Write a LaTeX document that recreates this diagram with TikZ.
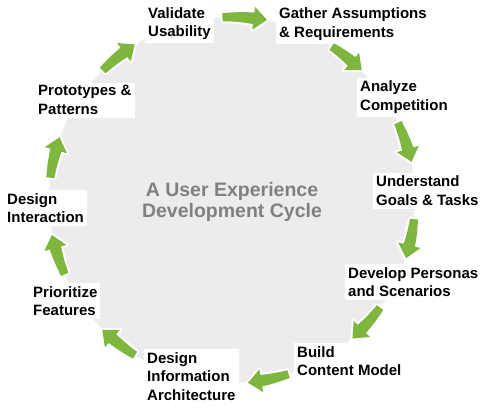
\documentclass[tikz,border=0pt]{standalone}
\usepackage{fontspec}
\setmainfont{Liberation Sans}
\definecolor{uxgrey}{RGB}{238,235,239}
\definecolor{uxgreen}{RGB}{126,182,64}
\definecolor{uxtitle}{RGB}{128,128,128}
\def\uxR{183}
% #1 tail angle, #2 tip angle (clockwise arrow along the circle)
\newcommand\uxarr[2]{%
  \pgfmathsetmacro\uxhb{#2+4.2}%
  \path[arrowfill]
    plot[domain=#1:\uxhb, samples=15] (\x:{\uxR+4+1.8*(\x-(#1))/(\uxhb-(#1))})
    -- (\uxhb:{\uxR+11.5}) -- (#2:{\uxR+0.5}) -- (\uxhb:{\uxR-11.5})
    -- plot[domain=\uxhb:#1, samples=15] (\x:{\uxR-4-1.8*(\x-(#1))/(\uxhb-(#1))})
    -- cycle;}
\begin{document}
\begin{tikzpicture}[x=1pt,y=1pt,
  lbl/.style={anchor=base west, align=left, fill=white, inner sep=3pt,
    font=\fontsize{15}{18.5}\selectfont\bfseries},
  arrowfill/.style={fill=uxgreen, preaction={draw=white, line width=4pt, line join=round}},
  titletext/.style={anchor=base, align=center, inner sep=0pt, text=uxtitle,
    font=\fontsize{19.5}{21}\selectfont\bfseries}]
\useasboundingbox (-232,-209) rectangle (268,200);
\fill[uxgrey] (0,0) circle[radius=183];
% arrows
\uxarr{93}{79}
\uxarr{57}{45}
\uxarr{25}{12}
\uxarr{-6}{-18.5}
\uxarr{-36}{-49}
\uxarr{-72}{-85}
\uxarr{-122}{-135}
\uxarr{-156}{-169}
\uxarr{173}{160}
\uxarr{135}{122}
% labels (anchor = baseline of the last line)
\node[lbl] (validate) at (-87,163.2) {Validate\\Usability};
\node[lbl] (gather) at (44,162.5) {Gather Assumptions\\\& Requirements};
\node[lbl] (analyze) at (125,89.5) {Analyze\\Competition};
\node[lbl] (understand) at (141,-5.5) {Understand\\Goals \& Tasks};
\node[lbl] (personas) at (113,-96.5) {Develop Personas\\and Scenarios};
\node[lbl] (content) at (62,-175.5) {Build\\Content Model};
\node[lbl] (infoarch) at (-88,-200) {Design\\Information\\Architecture};
\node[lbl] (prioritize) at (-202,-115.5) {Prioritize\\Features};
\node[lbl] (interaction) at (-228,-22.8) {Design\\Interaction};
\node[lbl] (prototypes) at (-197,85.5) {Prototypes \&\\Patterns};
% title
\node[titletext] (title) at (0,-18) {A User Experience\\Development Cycle};
\end{tikzpicture}
\end{document}
